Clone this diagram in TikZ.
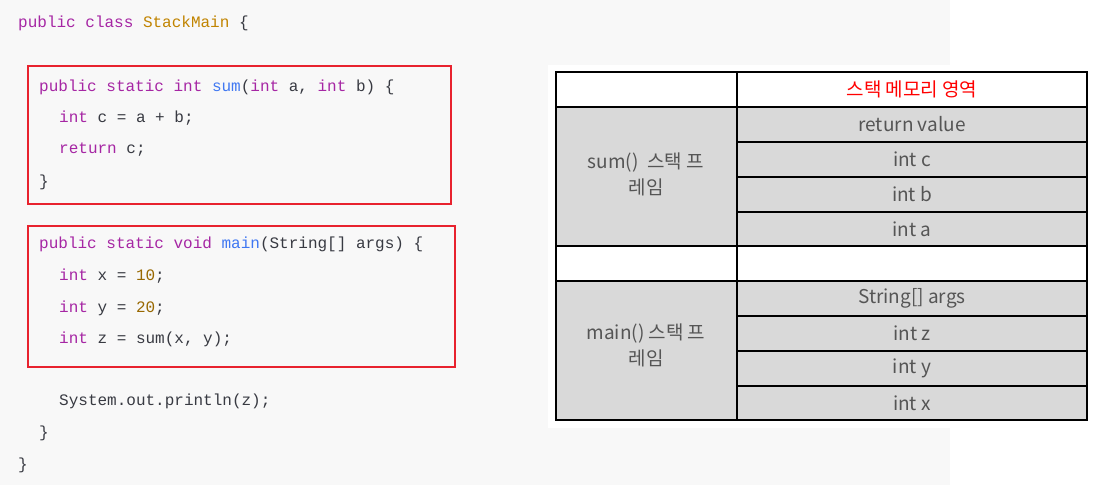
\documentclass[tikz,border=0pt]{standalone}
\usepackage{fontspec}
\setmonofont{Liberation Mono}
\newfontfamily\kr{Noto Sans CJK KR}
\definecolor{kw}{HTML}{A626A4}
\definecolor{cls}{HTML}{C18401}
\definecolor{fn}{HTML}{4078F2}
\definecolor{num}{HTML}{986801}
\definecolor{txt}{HTML}{383A42}
\definecolor{box}{HTML}{E8222E}
\definecolor{cell}{HTML}{D9D9D9}
\definecolor{bg}{HTML}{F8F8F8}
\definecolor{tt}{HTML}{555555}
\begin{document}
\begin{tikzpicture}[x=1pt,y=-1pt,
  code/.style={anchor=west,inner sep=0,font=\ttfamily\fontsize{16}{16}\selectfont,text=txt},
  redbox/.style={draw=box,line width=2.5pt},
  cellbox/.style={draw=black,line width=1.2pt},
  ctext/.style={font=\kr\fontsize{19}{26}\selectfont,text=tt,align=center,inner sep=0}]
\useasboundingbox (0,0) rectangle (1105,485);
\fill[white] (0,0) rectangle (1105,485);
\fill[bg] (0,0) rectangle (950,485);
\fill[white] (548,65) rectangle (1105,428);
% code
\node[code] (l1) at (18,23) {\textcolor{kw}{public class} \textcolor{cls}{StackMain} \{};
\node[code] (l2) at (39,87) {\textcolor{kw}{public static int} \textcolor{fn}{sum}(\textcolor{kw}{int} a, \textcolor{kw}{int} b) \{};
\node[code] (l3) at (59,118) {\textcolor{kw}{int} c = a + b;};
\node[code] (l4) at (59,150) {\textcolor{kw}{return} c;};
\node[code] (l5) at (39,182) {\}};
\node[code] (l6) at (39,244) {\textcolor{kw}{public static void} \textcolor{fn}{main}(String[] args) \{};
\node[code] (l7) at (59,276) {\textcolor{kw}{int} x = \textcolor{num}{10};};
\node[code] (l8) at (59,308) {\textcolor{kw}{int} y = \textcolor{num}{20};};
\node[code] (l9) at (59,339) {\textcolor{kw}{int} z = sum(x, y);};
\node[code] (l10) at (59,401) {System.out.println(z);};
\node[code] (l11) at (39,433) {\}};
\node[code] (l12) at (18,465) {\}};
\draw[redbox] (28,66) rectangle (451,204);
\draw[redbox] (28,226) rectangle (455,367);
% table
\fill[cell] (556,107) rectangle (1087,246);
\fill[cell] (556,281) rectangle (1087,420);
\foreach \y in {107,142,177,212,246,281,316,351,386} \draw[cellbox] (737,\y) -- (1087,\y);
\foreach \y in {107,246,281} \draw[cellbox] (556,\y) -- (737,\y);
\draw[cellbox] (737,72) -- (737,420);
\draw[cellbox] (556,72) rectangle (1087,420);
\node[ctext,text=red] (h) at (912,89) {스택 메모리 영역};
\node[ctext] (r1) at (912,124) {return value};
\node[ctext] (r2) at (912,159) {int c};
\node[ctext] (r3) at (912,194) {int b};
\node[ctext] (r4) at (912,229) {int a};
\node[ctext] (r6) at (912,298) {String[] args};
\node[ctext] (r7) at (912,333) {int z};
\node[ctext] (r8) at (912,368) {int y};
\node[ctext] (r9) at (912,403) {int x};
\node[ctext] (s1) at (646,174) {sum()\ \ 스택 프\\레임};
\node[ctext] (s2) at (646,345) {main() 스택 프\\레임};
\end{tikzpicture}
\end{document}
